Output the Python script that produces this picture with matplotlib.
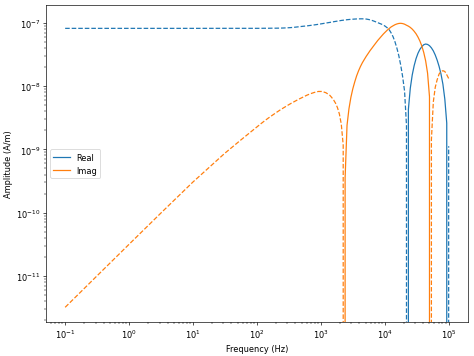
import numpy as np
import matplotlib
matplotlib.use('Agg')
import matplotlib.pyplot as plt

# frequencies (Hz)
freq = [0.1, 0.3162, 1, 3.162, 10, 31.62, 56.23, 100,
        114.8, 131.8, 151.4, 173.8, 199.5, 229.1, 263.0, 302.0, 346.7, 398.1,
        457.1, 524.8, 602.6, 691.8, 794.3, 912.0, 1047, 1202, 1380,
        1479, 1585, 1698, 1820, 1950, 2089, 2239, 2399, 2570, 2754,
        2951, 3162, 3388, 3631, 3890, 4169, 4467, 4786, 5129, 5495,
        5888, 6310, 6761, 7244, 7762, 8318, 8913, 9550, 10230, 10960,
        11750, 12590, 13490, 14450, 15490, 16600, 17780, 19050, 20420, 21880,
        23440, 25120, 26920, 28840, 30900, 33110, 35480, 38020, 40740, 43650,
        46770, 50120, 53700, 57540, 61660, 66070, 70790, 75860, 81280, 87100,
        93330, 100000]

# real part (A/m), negative values are drawn dashed
real = [-8.17e-8, -8.17e-8, -8.17e-8, -8.17e-8, -8.17e-8, -8.18e-8, -8.18e-8, -8.18e-8,
        -8.18e-8, -8.20e-8, -8.20e-8, -8.22e-8, -8.22e-8, -8.24e-8, -8.28e-8, -8.34e-8, -8.41e-8, -8.53e-8,
        -8.67e-8, -8.81e-8, -8.93e-8, -9.10e-8, -9.27e-8, -9.46e-8, -9.68e-8, -9.91e-8, -1.014e-7,
        -1.026e-7, -1.040e-7, -1.052e-7, -1.064e-7, -1.076e-7, -1.089e-7, -1.099e-7, -1.109e-7, -1.119e-7, -1.127e-7,
        -1.135e-7, -1.140e-7, -1.146e-7, -1.151e-7, -1.153e-7, -1.156e-7, -1.156e-7, -1.153e-7, -1.146e-7, -1.132e-7,
        -1.114e-7, -1.091e-7, -1.064e-7, -1.035e-7, -1.007e-7, -9.77e-8, -9.51e-8, -9.18e-8, -8.79e-8, -8.32e-8,
        -7.76e-8, -6.92e-8, -6.03e-8, -5.01e-8, -3.98e-8, -3.02e-8, -2.14e-8, -1.41e-8, -8.32e-9, -2.40e-9,
        4.3e-9, 9.3e-9, 1.50e-8, 2.10e-8, 2.72e-8, 3.30e-8, 3.80e-8, 4.20e-8, 4.50e-8, 4.62e-8,
        4.55e-8, 4.35e-8, 4.02e-8, 3.60e-8, 3.10e-8, 2.57e-8, 2.05e-8, 1.55e-8, 1.07e-8, 6.2e-9,
        2.6e-9, -1.12e-9]

# imaginary part (A/m)
imag = [-3.19e-12, -1.005e-11, -3.16e-11, -9.89e-11, -3.05e-10, -8.71e-10, -1.41e-9, -2.26e-9,
        -2.53e-9, -2.82e-9, -3.13e-9, -3.45e-9, -3.80e-9, -4.17e-9, -4.55e-9, -4.95e-9, -5.37e-9, -5.79e-9,
        -6.24e-9, -6.68e-9, -7.16e-9, -7.59e-9, -7.94e-9, -8.22e-9, -8.22e-9, -7.85e-9, -7.16e-9,
        -6.61e-9, -6.03e-9, -5.37e-9, -4.57e-9, -3.63e-9, -2.51e-9, -1.17e-9, 3.55e-10, 2.40e-9, 4.37e-9,
        6.61e-9, 9.02e-9, 1.16e-8, 1.45e-8, 1.74e-8, 2.04e-8, 2.34e-8, 2.63e-8, 2.95e-8, 3.27e-8,
        3.63e-8, 3.98e-8, 4.37e-8, 4.79e-8, 5.25e-8, 5.69e-8, 6.17e-8, 6.68e-8, 7.16e-8, 7.67e-8,
        8.13e-8, 8.61e-8, 8.97e-8, 9.33e-8, 9.59e-8, 9.77e-8, 9.82e-8, 9.73e-8, 9.51e-8, 9.16e-8,
        8.85e-8, 8.45e-8, 7.95e-8, 7.35e-8, 6.70e-8, 5.95e-8, 5.15e-8, 4.30e-8, 3.40e-8, 2.50e-8,
        1.60e-8, 6.8e-9, -1.41e-9, -5.62e-9, -9.55e-9, -1.26e-8, -1.55e-8, -1.70e-8, -1.75e-8, -1.70e-8,
        -1.51e-8, -1.32e-8]

freq = np.array(freq)
real = np.array(real)
imag = np.array(imag)

fig, ax = plt.subplots(figsize=(8, 6.025), dpi=59.25)

# positive parts solid, negative parts dashed (log axis clips the rest)
ax.loglog(freq, real, 'C0-', label='Real')
ax.loglog(freq, -real, 'C0--')
ax.loglog(freq, imag, 'C1-', label='Imag')
ax.loglog(freq, -imag, 'C1--')

ax.set_xlim(10**-1.3, 10**5.3)
ax.set_ylim(10**-11.73, 10**-6.72)
ax.set_xlabel('Frequency (Hz)')
ax.set_ylabel('Amplitude (A/m)')
ax.legend(loc='center left')

plt.subplots_adjust(left=0.097, right=0.987, bottom=0.095, top=0.983)
plt.savefig('out.png', dpi=59.25)
